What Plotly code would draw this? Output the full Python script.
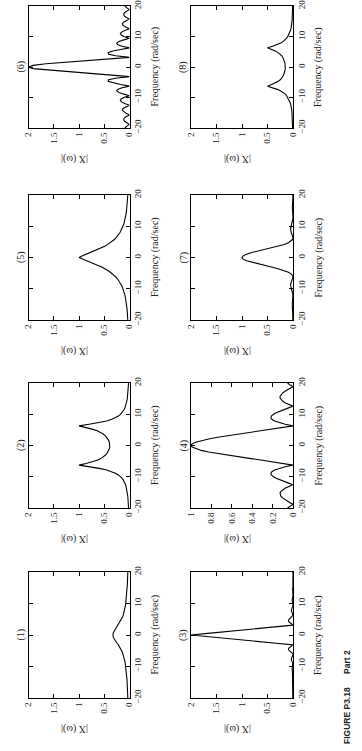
import plotly.graph_objects as go

# Frequency samples (rad/sec), non-negative half; all spectra are even in frequency
W_HALF = [0, 0.52, 1.05, 1.57, 2.09, 2.62, 3.14, 3.67, 4.19, 4.71, 5.24, 5.76, 6.28, 6.81,
          7.33, 7.85, 8.38, 8.9, 9.42, 9.95, 10.47, 11.0, 11.52, 12.04, 12.57, 13.09, 13.61,
          14.14, 14.66, 15.18, 15.71, 16.23, 16.76, 17.28, 17.8, 18.33, 18.85, 19.37, 19.9, 20]

MAG_1 = [0.33, 0.325, 0.31, 0.29, 0.27, 0.245, 0.22, 0.2, 0.18, 0.163, 0.148, 0.135, 0.124,
         0.114, 0.105, 0.098, 0.091, 0.085, 0.08, 0.075, 0.071, 0.067, 0.063, 0.06, 0.057,
         0.054, 0.052, 0.05, 0.048, 0.046, 0.044, 0.042, 0.041, 0.039, 0.038, 0.037, 0.035,
         0.034, 0.033, 0.033]
MAG_2 = [0.39, 0.39, 0.40, 0.41, 0.43, 0.45, 0.48, 0.52, 0.57, 0.64, 0.74, 0.86, 1.0, 0.80,
         0.60, 0.45, 0.35, 0.28, 0.22, 0.18, 0.15, 0.125, 0.105, 0.09, 0.078, 0.068, 0.06,
         0.053, 0.047, 0.042, 0.038, 0.034, 0.031, 0.028, 0.026, 0.024, 0.022, 0.02, 0.019,
         0.019]
MAG_3 = [2, 1.67, 1.33, 1.0, 0.67, 0.33, 0, 0.037, 0.085, 0.09, 0.055, 0.015, 0, 0.011,
         0.028, 0.033, 0.021, 0.006, 0, 0.005, 0.014, 0.017, 0.011, 0.003, 0, 0.003, 0.008,
         0.01, 0.007, 0.002, 0, 0.002, 0.005, 0.007, 0.005, 0.0015, 0, 0.0013, 0.004, 0.004]
MAG_4 = [1, 0.989, 0.955, 0.900, 0.827, 0.738, 0.637, 0.527, 0.413, 0.300, 0.191, 0.090, 0,
         0.076, 0.136, 0.180, 0.207, 0.217, 0.212, 0.194, 0.165, 0.129, 0.087, 0.043, 0,
         0.040, 0.074, 0.100, 0.118, 0.127, 0.127, 0.119, 0.103, 0.082, 0.056, 0.028, 0,
         0.027, 0.050, 0.054]
MAG_5 = [1, 0.93, 0.85, 0.77, 0.69, 0.61, 0.54, 0.48, 0.43, 0.38, 0.34, 0.30, 0.27, 0.24,
         0.215, 0.195, 0.175, 0.158, 0.143, 0.13, 0.118, 0.108, 0.099, 0.091, 0.084, 0.077,
         0.071, 0.066, 0.061, 0.057, 0.053, 0.05, 0.047, 0.044, 0.041, 0.039, 0.037, 0.035,
         0.033, 0.033]
MAG_6 = [2, 1.910, 1.654, 1.273, 0.827, 0.382, 0, 0.273, 0.413, 0.424, 0.331, 0.174, 0,
         0.147, 0.236, 0.255, 0.207, 0.112, 0, 0.101, 0.165, 0.182, 0.150, 0.083, 0, 0.076,
         0.127, 0.142, 0.118, 0.066, 0, 0.062, 0.103, 0.116, 0.097, 0.055, 0, 0.052, 0.087,
         0.091]
MAG_7 = [1, 0.978, 0.912, 0.810, 0.684, 0.545, 0.406, 0.278, 0.171, 0.090, 0.0365, 0.0081, 0,
         0.0058, 0.0185, 0.0324, 0.0428, 0.0471, 0.0449, 0.0376, 0.0272, 0.0166, 0.0075,
         0.0018, 0, 0.0016, 0.0054, 0.0100, 0.0139, 0.0161, 0.0161, 0.0142, 0.0106, 0.0067,
         0.0032, 0.0008, 0, 0.0007, 0.0025, 0.0030]
MAG_8 = [0.15, 0.152, 0.156, 0.163, 0.172, 0.185, 0.20, 0.22, 0.25, 0.29, 0.35, 0.42, 0.5,
         0.40, 0.31, 0.24, 0.19, 0.15, 0.125, 0.105, 0.088, 0.074, 0.06, 0.049, 0.04, 0.033,
         0.028, 0.024, 0.021, 0.018, 0.016, 0.014, 0.013, 0.012, 0.011, 0.010, 0.009, 0.008,
         0.008, 0.008]

PANEL_LABELS = ["(1)", "(2)", "(3)", "(4)", "(5)", "(6)", "(7)", "(8)"]
MAGS = [MAG_1, MAG_2, MAG_3, MAG_4, MAG_5, MAG_6, MAG_7, MAG_8]
MAG_MAX = [2, 2, 2, 1, 2, 2, 2, 2]
FREQ_TICKS = [-20, -10, 0, 10, 20]
FREQ_TICKTEXT = ["\u221220", "\u221210", "0", "10", "20"]
MAG_TICKS_2 = [0, 0.5, 1, 1.5, 2]
MAG_TICKTEXT_2 = ["0", "0.5", "1", "1.5", "2"]
MAG_TICKS_1 = [0, 0.2, 0.4, 0.6, 0.8, 1]
MAG_TICKTEXT_1 = ["0", "0.2", "0.4", "0.6", "0.8", "1"]
X_LABEL = "|X (\u03c9)|"
F_LABEL = "Frequency (rad/sec)"

W, H = 362, 751
# frame boxes in pixels (left, right, top, bottom) -- page is rotated 90 deg
COLS = {"L": (28.5, 129.5), "R": (191, 293)}
ROWS = [(6, 128), (195, 320), (383, 508), (572, 698)]
# panel index -> (column, row)
POS = {6: ("L", 0), 5: ("L", 1), 2: ("L", 2), 1: ("L", 3),
       8: ("R", 0), 7: ("R", 1), 4: ("R", 2), 3: ("R", 3)}

FONT = "Liberation Serif"
fig = go.Figure()
ann = []
for n in range(1, 9):
    col, row = POS[n]
    l, r = COLS[col]
    t, b = ROWS[row]
    mag = MAGS[n - 1]
    freq = [-w for w in reversed(W_HALF[1:])] + W_HALF
    vals = list(reversed(mag[1:])) + mag
    fig.add_trace(go.Scatter(x=vals, y=freq, mode="lines",
                             line=dict(color="black", width=1.1),
                             xaxis=f"x{n}", yaxis=f"y{n}", showlegend=False,
                             hoverinfo="skip"))
    if MAG_MAX[n - 1] == 1:
        tv, tt = MAG_TICKS_1, MAG_TICKTEXT_1
    else:
        tv, tt = MAG_TICKS_2, MAG_TICKTEXT_2
    ax = dict(domain=[l / W, r / W], anchor=f"y{n}", range=[MAG_MAX[n - 1], 0],
              tickvals=tv, ticktext=tt, tickangle=-90, ticks="inside", ticklen=4,
              mirror="ticks", showline=True, linecolor="black", linewidth=1,
              showgrid=False, zeroline=False, tickcolor="black", automargin=False,
              ticklabeloverflow="allow", fixedrange=True,
              tickfont=dict(family=FONT, size=9, color="#222"))
    ay = dict(domain=[1 - b / H, 1 - t / H], anchor=f"x{n}", side="right",
              range=[-20, 20], tickvals=FREQ_TICKS, ticktext=FREQ_TICKTEXT,
              tickangle=-90, ticks="inside", ticklen=4, mirror="ticks",
              showline=True, linecolor="black", linewidth=1, showgrid=False,
              zeroline=False, tickcolor="black", automargin=False,
              ticklabeloverflow="allow", fixedrange=True,
              tickfont=dict(family=FONT, size=9, color="#222"))
    fig.update_layout(**{f"xaxis{n}": ax, f"yaxis{n}": ay})
    cx = (l + r) / 2
    cy = (t + b) / 2
    ann.append(dict(x=(cx - 4) / W, y=1 - (b + 31) / H, xref="paper", yref="paper",
                    text=X_LABEL, textangle=180, showarrow=False,
                    font=dict(family=FONT, size=10, color="#222"),
                    xanchor="center", yanchor="middle"))
    ann.append(dict(x=(r + 25) / W, y=1 - cy / H, xref="paper", yref="paper",
                    text=F_LABEL, textangle=-90, showarrow=False,
                    font=dict(family=FONT, size=10, color="#222"),
                    xanchor="center", yanchor="middle"))
    ann.append(dict(x=(l - 8) / W, y=1 - cy / H, xref="paper", yref="paper",
                    text=PANEL_LABELS[n - 1], textangle=-90, showarrow=False,
                    font=dict(family=FONT, size=10, color="#222"),
                    xanchor="center", yanchor="middle"))

ann.append(dict(x=347 / W, y=1 - 716 / H, xref="paper", yref="paper",
                text="<b>FIGURE P3.18</b>", textangle=-90, showarrow=False,
                font=dict(family="Liberation Sans", size=8.5, color="#222"),
                xanchor="center", yanchor="middle"))
ann.append(dict(x=347 / W, y=1 - 662 / H, xref="paper", yref="paper",
                text="<b>Part 2</b>", textangle=-90, showarrow=False,
                font=dict(family="Liberation Sans", size=8.5, color="#222"),
                xanchor="center", yanchor="middle"))

fig.update_layout(width=W, height=H, margin=dict(l=0, r=0, t=0, b=0, autoexpand=False),
                  paper_bgcolor="white", plot_bgcolor="white", annotations=ann,
                  hovermode=False)
fig.write_html("out.html", config={"displayModeBar": False},
               post_script="document.body.style.margin='0';document.body.style.padding='0';"
                           "document.body.style.overflow='hidden';")
